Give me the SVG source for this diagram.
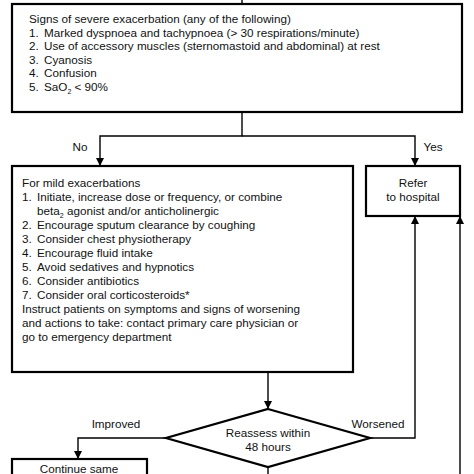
<svg xmlns="http://www.w3.org/2000/svg" width="474" height="474" viewBox="0 0 474 474">
<defs>
<marker id="arr" markerWidth="8" markerHeight="9" refX="7" refY="4" orient="auto" markerUnits="userSpaceOnUse">
<path d="M0,0 L8,4 L0,8 Z" fill="#000"/>
</marker>
<style>
.box{fill:#fff;stroke:#000;stroke-width:2.2}
.ln{fill:none;stroke:#000;stroke-width:1.4}
text{font-family:"Liberation Sans",Arial,sans-serif;font-size:11.7px;fill:#111}
.c{text-anchor:middle}
</style>
</defs>
<rect width="474" height="474" fill="#fff"/>
<g id="connectors">
<line class="ln" x1="242" y1="0" x2="242" y2="4"/>
<polyline class="ln" points="242,112 242,136 100,136 100,165" marker-end="url(#arr)"/>
<polyline class="ln" points="242,136 415,136 415,165" marker-end="url(#arr)"/>
<line class="ln" x1="268" y1="372" x2="268" y2="408" marker-end="url(#arr)"/>
<polyline class="ln" points="166,438 78,438 78,458" marker-end="url(#arr)"/>
<polyline class="ln" points="370,438 415,438 415,217" marker-end="url(#arr)"/>
<line class="ln" x1="460" y1="474" x2="460" y2="217" marker-end="url(#arr)"/>
<line class="ln" x1="268" y1="467" x2="268" y2="474"/>
<text x="80" y="151" class="c">No</text>
<text x="433" y="151" class="c">Yes</text>
<text x="116" y="428" class="c">Improved</text>
<text x="378" y="428" class="c">Worsened</text>
</g>
<g id="severe">
<rect class="box" x="12" y="4" width="450" height="108"/>
<text x="29" y="23">Signs of severe exacerbation (any of the following)</text>
<text x="29" y="36.5">1.</text><text x="44" y="36.5">Marked dyspnoea and tachypnoea (&gt; 30 respirations/minute)</text>
<text x="29" y="50">2.</text><text x="44" y="50">Use of accessory muscles (sternomastoid and abdominal) at rest</text>
<text x="29" y="63.5">3.</text><text x="44" y="63.5">Cyanosis</text>
<text x="29" y="77">4.</text><text x="44" y="77">Confusion</text>
<text x="29" y="90.5">5.</text><text x="44" y="90.5">SaO<tspan font-size="7" dy="3">2</tspan><tspan dy="-3"> &lt; 90%</tspan></text>
</g>
<g id="mild">
<rect class="box" x="12" y="166" width="341" height="206"/>
<text x="22" y="187">For mild exacerbations</text>
<text x="22" y="201">1.</text><text x="37" y="201">Initiate, increase dose or frequency, or combine</text>
<text x="37" y="215">beta<tspan font-size="7" dy="3">2</tspan><tspan dy="-3"> agonist and/or anticholinergic</tspan></text>
<text x="22" y="229">2.</text><text x="37" y="229">Encourage sputum clearance by coughing</text>
<text x="22" y="243">3.</text><text x="37" y="243">Consider chest physiotherapy</text>
<text x="22" y="257">4.</text><text x="37" y="257">Encourage fluid intake</text>
<text x="22" y="271">5.</text><text x="37" y="271">Avoid sedatives and hypnotics</text>
<text x="22" y="285">6.</text><text x="37" y="285">Consider antibiotics</text>
<text x="22" y="299">7.</text><text x="37" y="299">Consider oral corticosteroids*</text>
<text x="22" y="313">Instruct patients on symptoms and signs of worsening</text>
<text x="22" y="327">and actions to take: contact primary care physician or</text>
<text x="22" y="341">go to emergency department</text>
</g>
<g id="refer">
<rect class="box" x="366" y="166" width="94" height="50"/>
<text x="413" y="187" class="c">Refer</text>
<text x="413" y="201" class="c">to hospital</text>
</g>
<g id="reassess">
<polygon class="box" points="268,409 370,438 268,467 166,438"/>
<text x="268" y="437" class="c">Reassess within</text>
<text x="268" y="451" class="c">48 hours</text>
</g>
<g id="continue">
<rect class="box" x="12" y="459" width="135" height="30"/>
<text x="79" y="472.5" class="c">Continue same</text>
</g>
</svg>
